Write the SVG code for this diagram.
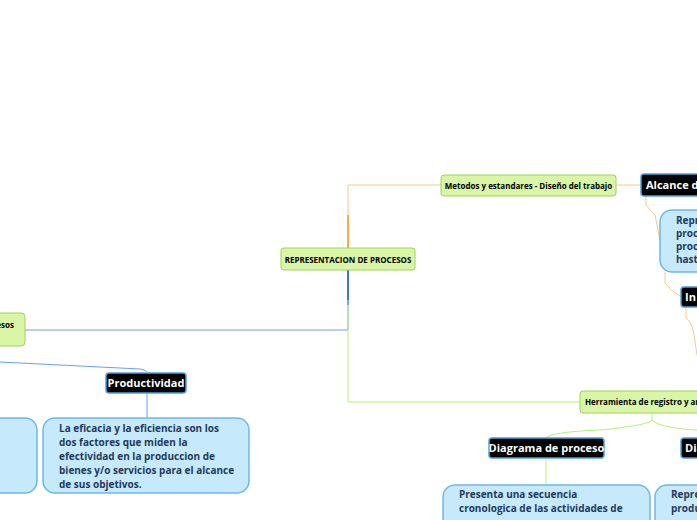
<svg xmlns="http://www.w3.org/2000/svg" width="697" height="520" viewBox="0 0 697 520">
<style>
.t{font-family:"Open Sans","Noto Sans",sans-serif;font-weight:bold}
.g{fill:#d9f5a6;stroke:#9fd35a;stroke-width:1}
.k{fill:#000;stroke:#4aa3df;stroke-width:1.5}
.n{fill:#c6e9fb;stroke:#6fb8e6;stroke-width:1.5}
.gt{font-size:8px;fill:#000}
.kt{font-size:11px;fill:#fff}
.nt{font-size:10px;fill:#1f3a5c}
.c{fill:none;stroke-width:1}
</style>
<rect width="697" height="520" fill="#fff"/>
<g id="connectors">
<path class="c" d="M348 248V185H441" stroke="#f6c98a"/>
<path d="M348 248V215" stroke="#f39a1e" stroke-width="1.5"/>
<path class="c" d="M348 270V330H25" stroke="#6a9ef0"/>
<path d="M348 270V305" stroke="#1a56db" stroke-width="1.5"/>
<path class="c" d="M348 300V402H580" stroke="#b7ef7a"/>
<path class="c" d="M616 185H641" stroke="#f6c98a"/>
<path class="c" d="M646 196V205Q650 210 655 215L660 240" stroke="#f6c98a"/>
<path class="c" d="M665 272V283Q670 290 681 297" stroke="#f6c98a"/>
<path class="c" d="M686 307V318Q692 322 694 335L697 355" stroke="#f6c98a"/>
<path class="c" d="M652 413V420Q650 425 600 430Q550 432 546 438" stroke="#b7ef7a"/>
<path class="c" d="M652 420Q660 428 697 430" stroke="#b7ef7a"/>
<path class="c" d="M546 458V485" stroke="#b7ef7a"/>
<path class="c" d="M0 362Q100 367 140 369Q147 370 147 373" stroke="#6a9ef0"/>
<path class="c" d="M147 393V418" stroke="#6a9ef0"/>
</g>
<g id="central"><rect class="g" x="281" y="248" width="134" height="22" rx="3"/><text class="t gt" x="348" y="262.5" text-anchor="middle" font-size="7.5">REPRESENTACION DE PROCESOS</text></g>
<g id="metodos"><rect class="g" x="441" y="175" width="175" height="21" rx="3"/><text class="t gt" x="528.5" y="188.5" text-anchor="middle">Metodos y estandares - Diseño del trabajo</text></g>
<g id="alcance"><rect class="k" x="641" y="174" width="80" height="22" rx="3"/><text class="t kt" x="646" y="189">Alcance de</text></g>
<g id="nota-alcance"><rect class="n" x="660" y="210" width="80" height="62" rx="12"/><text class="t nt" x="676" y="224">Repr</text><text class="t nt" x="676" y="237">proc</text><text class="t nt" x="676" y="250">proc</text><text class="t nt" x="676" y="263">hast</text></g>
<g id="in"><rect class="k" x="681" y="287" width="40" height="20" rx="3"/><text class="t kt" x="685" y="301">In</text></g>
<g id="herramienta"><rect class="g" x="580" y="391" width="140" height="22" rx="3"/><text class="t gt" x="585" y="405">Herramienta de registro y an</text></g>
<g id="procesos"><rect class="g" x="-60" y="313" width="85" height="33" rx="4"/><text class="t gt" x="14" y="328" text-anchor="end">Procesos</text></g>
<g id="productividad"><rect class="k" x="106" y="373" width="80" height="20" rx="3"/><text class="t kt" x="146" y="387" text-anchor="middle">Productividad</text></g>
<g id="nota-izq"><rect class="n" x="-100" y="418" width="137" height="75" rx="12"/></g>
<g id="nota-productividad"><rect class="n" x="43" y="418" width="206" height="75" rx="12"/>
<text class="t nt" x="59" y="432">La eficacia y la eficiencia son los</text>
<text class="t nt" x="59" y="446">dos factores que miden la</text>
<text class="t nt" x="59" y="460">efectividad en la produccion de</text>
<text class="t nt" x="59" y="474">bienes y/o servicios para el alcance</text>
<text class="t nt" x="59" y="488">de sus objetivos.</text></g>
<g id="diagrama-proceso"><rect class="k" x="489" y="438" width="115" height="20" rx="3"/><text class="t kt" x="546.5" y="452" text-anchor="middle">Diagrama de proceso</text></g>
<g id="nota-diagrama"><rect class="n" x="443" y="485" width="207" height="60" rx="12"/>
<text class="t nt" x="459" y="498">Presenta una secuencia</text>
<text class="t nt" x="459" y="512">cronologica de las actividades de</text></g>
<g id="dia"><rect class="k" x="681" y="438" width="40" height="20" rx="3"/><text class="t kt" x="685" y="452">Dia</text></g>
<g id="nota-dia"><rect class="n" x="655" y="485" width="80" height="60" rx="12"/>
<text class="t nt" x="671" y="498">Repre</text><text class="t nt" x="671" y="512">produ</text></g>
</svg>
